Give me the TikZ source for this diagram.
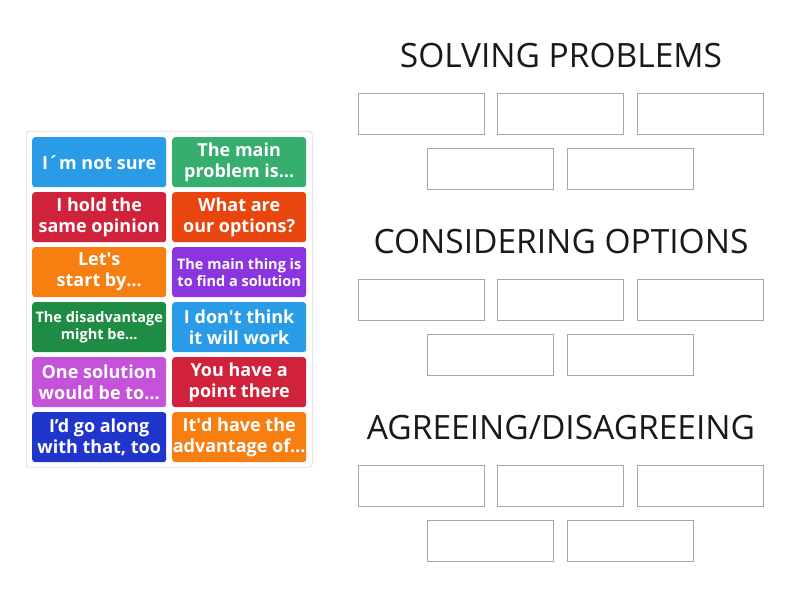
\documentclass[tikz,border=0pt]{standalone}
\usepackage{fontspec}
\setmainfont{Open Sans}
\definecolor{cblue}{HTML}{2A9BE6}
\definecolor{cgreen}{HTML}{35AE6E}
\definecolor{cred}{HTML}{D0223A}
\definecolor{cored}{HTML}{E8460E}
\definecolor{corange}{HTML}{F77F12}
\definecolor{cpurple}{HTML}{8A35E0}
\definecolor{cdgreen}{HTML}{1E8C45}
\definecolor{cpink}{HTML}{C453DA}
\definecolor{cdblue}{HTML}{2035CC}
\begin{document}
\begin{tikzpicture}[x=1pt,y=-1pt,
  tile/.style={rounded corners=3pt,minimum width=134pt,minimum height=50pt,inner sep=0pt,anchor=north west,text=white,font=\bfseries\fontsize{18}{21}\selectfont,align=center},
  small/.style={font=\bfseries\fontsize{14.5}{17}\selectfont},
  slot/.style={draw=gray!70,minimum width=126pt,minimum height=41pt,inner sep=0pt,anchor=north west},
  title/.style={font=\fontsize{33.5}{36}\selectfont,text=black!90}]
\useasboundingbox (0,0) rectangle (800,600);
\node[draw=gray!50,rounded corners=3pt,minimum width=286pt,minimum height=336pt,anchor=north west,inner sep=0pt] (panel) at (26,131) {};
\node[tile,fill=cblue] (t1) at (32,137) {I´m not sure};
\node[tile,fill=cgreen] (t2) at (172,137) {The main\\problem is…};
\node[tile,fill=cred] (t3) at (32,192) {I hold the\\same opinion};
\node[tile,fill=cored] (t4) at (172,192) {What are\\our options?};
\node[tile,fill=corange] (t5) at (32,247) {Let\textquotesingle s\\start by…};
\node[tile,fill=cpurple,small] (t6) at (172,247) {The main thing is\\to find a solution};
\node[tile,fill=cdgreen,small] (t7) at (32,302) {The disadvantage\\might be…};
\node[tile,fill=cblue] (t8) at (172,302) {I don\textquotesingle t think\\it will work};
\node[tile,fill=cpink] (t9) at (32,357) {One solution\\would be to…};
\node[tile,fill=cred] (t10) at (172,357) {You have a\\point there};
\node[tile,fill=cdblue] (t11) at (32,412) {I’d go along\\with that, too};
\node[tile,fill=corange] (t12) at (172,412) {It\textquotesingle d have the\\advantage of…};
\foreach \n/\t/\o in {a/SOLVING PROBLEMS/0,b/CONSIDERING OPTIONS/186,c/AGREEING\slash DISAGREEING/372}{
  \node[title] (h\n) at (561,56+\o) {\t};
  \node[slot] (\n1) at (358,93+\o) {};
  \node[slot] (\n2) at (497,93+\o) {};
  \node[slot] (\n3) at (637,93+\o) {};
  \node[slot] (\n4) at (427,148+\o) {};
  \node[slot] (\n5) at (567,148+\o) {};
}
\end{tikzpicture}
\end{document}
